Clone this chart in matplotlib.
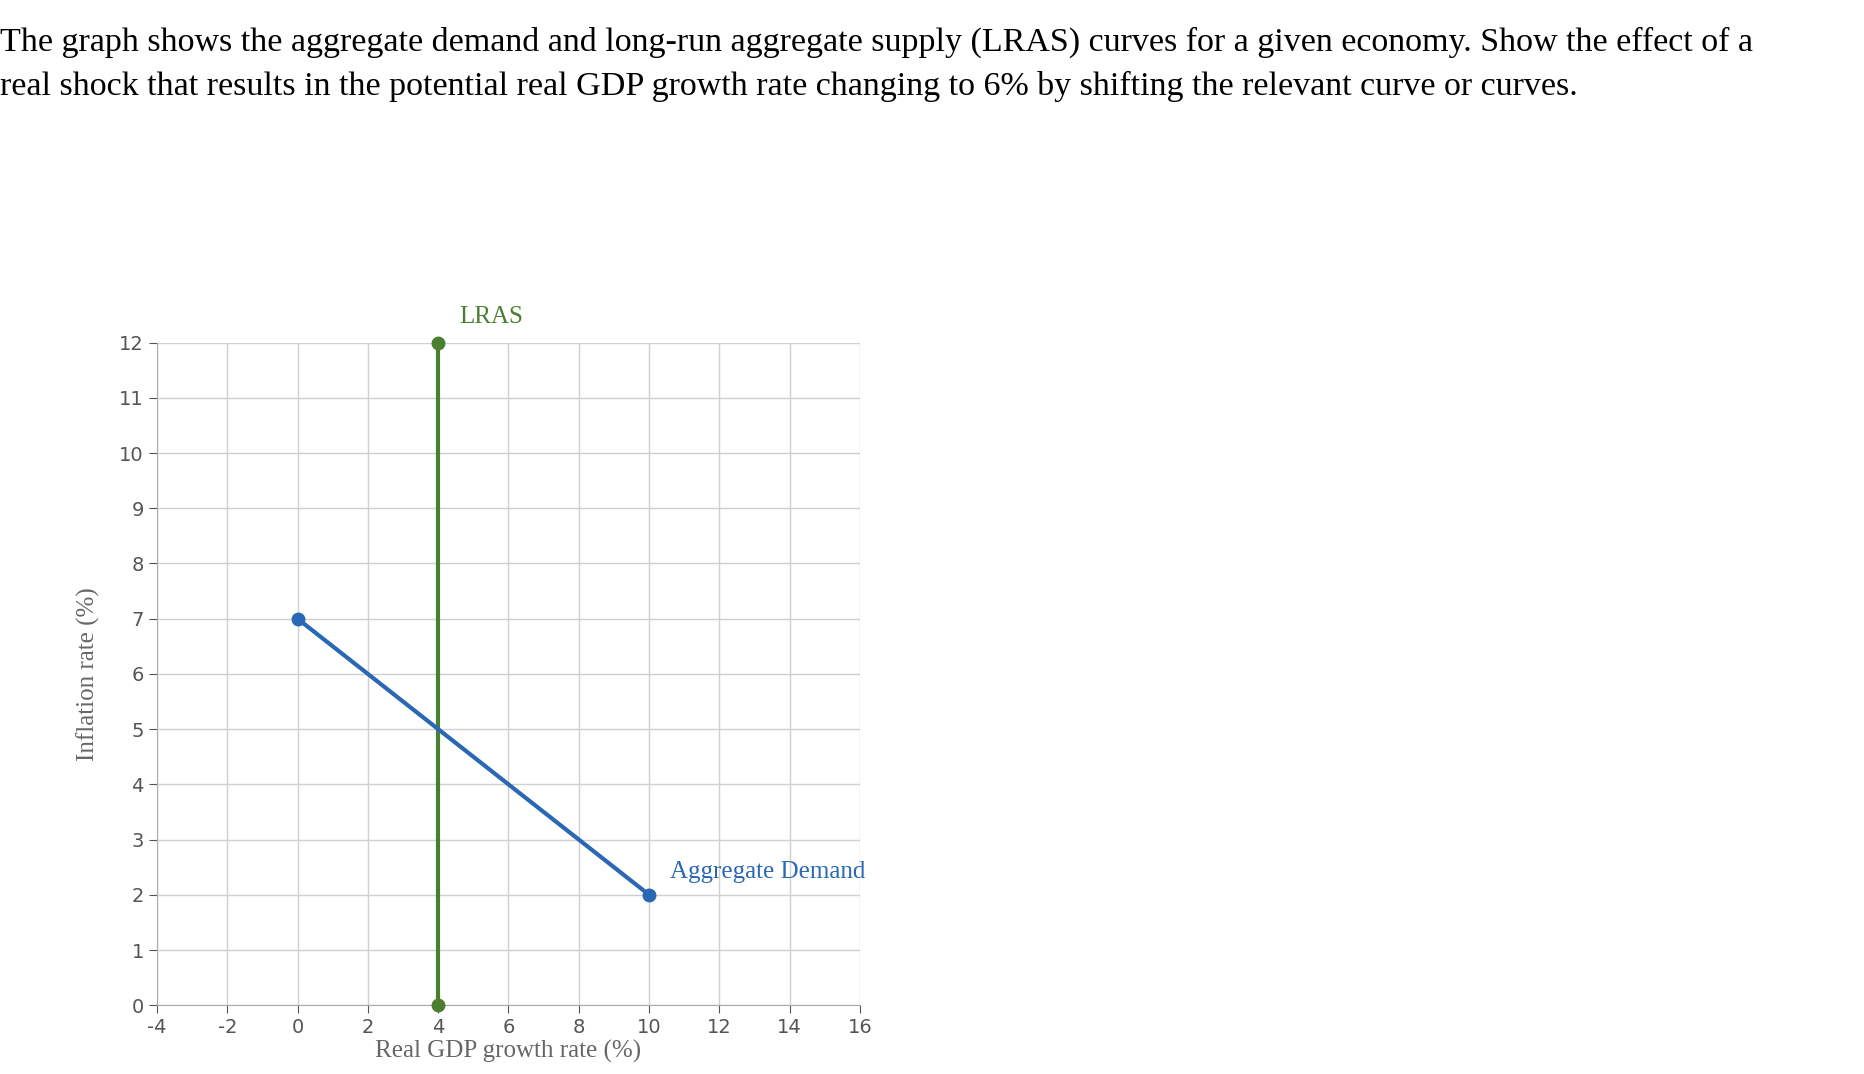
import matplotlib
matplotlib.use("Agg")
import matplotlib.pyplot as plt

lras_x = [4, 4]
lras_y = [0, 12]
ad_x = [0, 10]
ad_y = [7, 2]
xticks = list(range(-4, 17, 2))
yticks = list(range(0, 13))

green = "#4a7f32"
blue = "#2a68b5"

fig = plt.figure(figsize=(18.64, 10.74), dpi=100)
fig.text(0.0, 0.975, "The graph shows the aggregate demand and long-run aggregate supply (LRAS) curves for a given economy. Show the effect of a\n"
         "real shock that results in the potential real GDP growth rate changing to 6% by shifting the relevant curve or curves.",
         family="Liberation Serif", fontsize=24.5, va="top", ha="left", linespacing=1.55)

ax = fig.add_axes([0.0842, 0.064, 0.3772, 0.617])
ax.set_xlim(-4, 16)
ax.set_ylim(0, 12)
ax.set_xticks(xticks)
ax.set_yticks(yticks)
ax.set_xticklabels([str(t) for t in xticks])
ax.grid(True, color="#d0d0d0", lw=1)
ax.set_axisbelow(True)
for s in ["top", "right"]:
    ax.spines[s].set_visible(False)
for s in ["left", "bottom"]:
    ax.spines[s].set_color("#aaaaaa")
ax.tick_params(colors="#555555", labelsize=14, length=6, direction="out")
for lab in ax.get_xticklabels() + ax.get_yticklabels():
    lab.set_color("#555555")

ax.plot(lras_x, lras_y, color=green, lw=3, marker="o", ms=9, clip_on=False, zorder=5)
ax.plot(ad_x, ad_y, color=blue, lw=3, marker="o", ms=9, clip_on=False, zorder=5)
ax.text(4.6, 12.35, "LRAS", color=green, family="Liberation Serif", fontsize=18)
ax.text(10.6, 2.3, "Aggregate Demand", color=blue, family="Liberation Serif", fontsize=18)

ax.set_xlabel("Real GDP growth rate (%)", family="Liberation Serif", fontsize=18, color="#666666", labelpad=2)
ax.set_ylabel("Inflation rate (%)", family="Liberation Serif", fontsize=18, color="#666666", labelpad=14)

fig.savefig("out.png", dpi=100)
